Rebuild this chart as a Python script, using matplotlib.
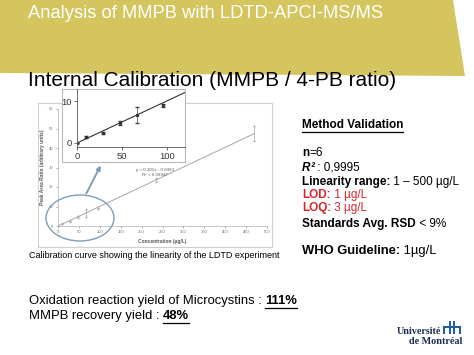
import matplotlib.pyplot as plt
from matplotlib.patches import Polygon, Rectangle, Ellipse, FancyArrowPatch
from matplotlib.lines import Line2D

# calibration data
conc = [0, 10, 29, 48, 67, 96, 235, 470]
ratio = [0, 1.4, 2.4, 4.8, 6.7, 9.0, 23.6, 47.5]
err = [0, 0.3, 0.3, 0.5, 1.9, 0.4, 1.0, 4.0]
slope, intercept = 0.101, -0.0493
main_xticks = [0, 50, 100, 150, 200, 250, 300, 350, 400, 450, 500]
main_yticks = [0, 10, 20, 30, 40, 50, 60]
inset_xticks = [0, 50, 100]
inset_yticks = [0, 10]

W, H = 474, 355
plt.rcParams['font.family'] = ['Liberation Sans', 'DejaVu Sans']
fig = plt.figure(figsize=(W / 100, H / 100), dpi=100)
renderer = fig.canvas.get_renderer()


def fx(px):
    return px / W


def fy(py):
    return 1 - py / H


def rect(x0, y0, x1, y1):
    return [fx(x0), fy(y1), (x1 - x0) / W, (y1 - y0) / H]


def chain(x, y, parts, size):
    # parts: (text, weight, colour, style, underline)
    for s, weight, color, style, ul in parts:
        t = fig.text(fx(x), fy(y), s, fontsize=size, va='center', fontweight=weight,
                     color=color, fontstyle=style)
        bb = t.get_window_extent(renderer)
        if ul:
            fig.add_artist(Line2D([bb.x0 / W, bb.x1 / W], [(bb.y0 - 0.8) / H] * 2,
                                  color=color, lw=0.9))
        x = bb.x1


# gold banner
fig.add_artist(Polygon([(0, 1), (fx(453), 1), (fx(465), fy(76)), (0, fy(73))],
                       closed=True, transform=fig.transFigure, facecolor='#D4C55E',
                       edgecolor='none', zorder=0))
fig.text(fx(28), fy(14), 'Analysis of MMPB with LDTD-APCI-MS/MS', color='white',
         fontsize=13.2, va='center')
fig.text(fx(28), fy(80), 'Internal Calibration (MMPB / 4-PB ratio)', color='black',
         fontsize=15, va='center')

# outer frame of the chart picture
fig.add_artist(Rectangle((fx(38), fy(247)), (272 - 38) / W, (247 - 103) / H,
                         transform=fig.transFigure, facecolor='white',
                         edgecolor='#D0D0D0', lw=0.8, zorder=0.5))

# main calibration plot
ax = fig.add_axes(rect(58, 109, 267, 226), zorder=1)
ax.set_facecolor('none')
ax.plot([0, 470], [intercept, slope * 470 + intercept], color='#A5A5A5', lw=0.7)
ax.errorbar(conc, ratio, yerr=err, fmt='none', ecolor='#A8A8A8', elinewidth=0.5,
            capsize=1)
ax.set_xlim(0, 500)
ax.set_ylim(0, 60)
ax.set_xticks(main_xticks)
ax.set_yticks(main_yticks)
ax.tick_params(labelsize=3, length=1.2, width=0.4, colors='#707070', pad=2)
for side in ['top', 'right']:
    ax.spines[side].set_visible(False)
for side in ['left', 'bottom']:
    ax.spines[side].set_color('#B0B0B0')
    ax.spines[side].set_linewidth(0.5)
ax.set_xlabel('Concentration (µg/L)', fontsize=3.5, fontweight='bold', color='#555555',
              labelpad=3)
ax.set_ylabel('Peak Area Ratio (arbitrary units)', fontsize=3.5, fontweight='bold',
              color='#555555', labelpad=3)
ax.text(232, 27.5, 'y = 0.101x - 0.0493\nR² = 0.99947', fontsize=3.2, color='#555555',
        ha='center', va='center', linespacing=1.1)

# inset zoom
fig.add_artist(Rectangle((fx(62), fy(162)), (185 - 62) / W, (162 - 89) / H,
                         transform=fig.transFigure, facecolor='white',
                         edgecolor='#B8B8B8', lw=0.8, zorder=2))
ins = fig.add_axes(rect(77, 89, 185, 147), zorder=3)
ins.set_facecolor('none')
ins.plot([0, 120], [intercept, slope * 120 + intercept], color='#333333', lw=0.8)
ins.errorbar(conc[:6], ratio[:6], yerr=err[:6], fmt='none', ecolor='#444444',
             elinewidth=0.5, capsize=1.2)
ins.plot(conc[:6], ratio[:6], 's', ms=1.3, color='#333333')
ins.set_xlim(0, 120)
ins.set_ylim(-1, 12.9)
ins.set_xticks(inset_xticks)
ins.set_yticks(inset_yticks)
ins.tick_params(labelsize=6.8, length=2, width=0.5, pad=1.5, colors='#333333')
for side in ['top', 'right']:
    ins.spines[side].set_visible(False)
for side in ['left', 'bottom']:
    ins.spines[side].set_color('#555555')
    ins.spines[side].set_linewidth(0.6)

# ellipse around low range and arrow to inset
fig.add_artist(Ellipse((fx(80), fy(218)), 68 / W, 46 / H, transform=fig.transFigure,
                       facecolor='none', edgecolor='#7E9DB8', lw=1.0, zorder=4))
fig.add_artist(FancyArrowPatch((fx(85), fy(196)), (fx(102), fy(163)),
                               transform=fig.transFigure, arrowstyle='-|>',
                               mutation_scale=6, color='#7E9DB8', lw=1.4, zorder=4))

fig.text(fx(29), fy(255), 'Calibration curve showing the linearity of the LDTD experiment',
         fontsize=6.5, va='center')

# method validation block
k, red = 'black', '#D9262B'
s1 = 8.5
chain(302, 125, [('Method Validation', 'bold', k, 'normal', True)], s1)
chain(302, 153, [('n', 'bold', k, 'normal', False), ('=6', 'normal', k, 'normal', False)], s1)
chain(302, 168, [('R', 'bold', k, 'italic', False), ('²', 'bold', k, 'italic', False),
                 (' : 0,9995', 'normal', k, 'normal', False)], s1)
chain(302, 182, [('Linearity range:', 'bold', k, 'normal', False),
                 (' 1 – 500 µg/L', 'normal', k, 'normal', False)], s1)
chain(302, 195, [('LOD:', 'bold', red, 'normal', False),
                 (' 1 µg/L', 'normal', red, 'normal', False)], s1)
chain(302, 208, [('LOQ:', 'bold', red, 'normal', False),
                 (' 3 µg/L', 'normal', red, 'normal', False)], s1)
chain(302, 224, [('Standards Avg. RSD', 'bold', k, 'normal', False),
                 (' < 9%', 'normal', k, 'normal', False)], s1)
chain(302, 251, [('WHO Guideline:', 'bold', k, 'normal', False),
                 (' 1µg/L', 'normal', k, 'normal', False)], 9.4)

# yields
chain(29, 301, [('Oxidation reaction yield of Microcystins : ', 'normal', k, 'normal', False),
                ('111%', 'bold', k, 'normal', True)], 9.4)
chain(29, 316, [('MMPB recovery yield : ', 'normal', k, 'normal', False),
                ('48%', 'bold', k, 'normal', True)], 9.4)

# université de montréal logo
navy = '#1C2B4F'
fig.text(fx(441), fy(332), 'Université', fontsize=7.3, family='Liberation Serif',
         fontweight='bold', color=navy, ha='right', va='center')
fig.text(fx(462), fy(342), 'de Montréal', fontsize=7.3, family='Liberation Serif',
         fontweight='bold', color=navy, ha='right', va='center')
blue = '#1F5FA8'
for x0, y0, w, h in [(449, 321, 2, 13), (453, 321, 2, 13), (442.5, 326, 18.5, 2.2),
                     (442.5, 326, 2, 8), (459, 326, 2, 8)]:
    fig.add_artist(Rectangle((fx(x0), fy(y0 + h)), w / W, h / H,
                             transform=fig.transFigure, facecolor=blue,
                             edgecolor='none'))

fig.savefig('out.png', dpi=100)
